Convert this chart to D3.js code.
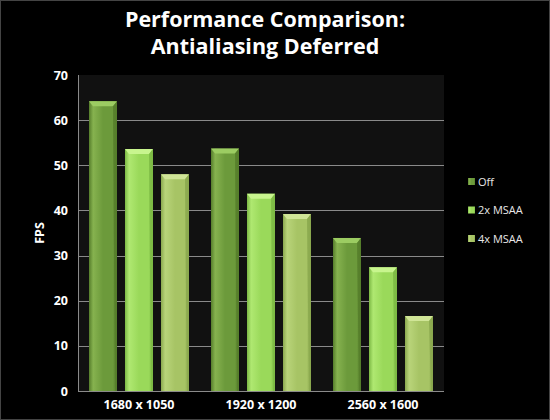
<!DOCTYPE html>
<html>
<head>
<meta charset="utf-8">
<script src="https://cdn.jsdelivr.net/npm/d3@7"></script>
<style>
  body { margin: 0; background: #000; }
  svg { display: block; }
  text { font-family: "Open Sans", "Noto Sans", sans-serif; }
</style>
</head>
<body>
<div id="chart"></div>
<script>
'use strict';

var resolutions = ['1680 x 1050', '1920 x 1200', '2560 x 1600'];
var seriesNames = ['Off', '2x MSAA', '4x MSAA'];
var offFps = [64.2, 53.7, 33.9];
var msaa2xFps = [53.6, 43.7, 27.4];
var msaa4xFps = [48, 39.2, 16.6];
var yTicks = [0, 10, 20, 30, 40, 50, 60, 70];

var colors = {
  'Off':     { base: '#6c9a3b', dark: '#557d2b', light: '#86b24f', top: '#9ccc62' },
  '2x MSAA': { base: '#9ad95a', dark: '#7cb944', light: '#afe871', top: '#c8f58e' },
  '4x MSAA': { base: '#a7c465', dark: '#8aa84e', light: '#b9d47a', top: '#d0e597' }
};

var width = 550, height = 420;
var margins = { left: 78, right: 106, top: 75, bottom: 29 };
var plotW = width - margins.left - margins.right;
var plotH = height - margins.top - margins.bottom;

var svg = d3.select('#chart').append('svg')
  .attr('width', width)
  .attr('height', height);

svg.append('rect')
  .attr('x', 0.5).attr('y', 0.5)
  .attr('width', width - 1).attr('height', height - 1)
  .attr('fill', '#000')
  .attr('stroke', '#444');

var defs = svg.append('defs');
seriesNames.forEach(function(name, i) {
  var c = colors[name];
  var g = defs.append('linearGradient')
    .attr('id', 'grad' + i)
    .attr('x1', '0%').attr('x2', '100%').attr('y1', '0%').attr('y2', '0%');
  g.append('stop').attr('offset', '0%').attr('stop-color', c.dark);
  g.append('stop').attr('offset', '15%').attr('stop-color', c.light);
  g.append('stop').attr('offset', '50%').attr('stop-color', c.base);
  g.append('stop').attr('offset', '85%').attr('stop-color', c.base);
  g.append('stop').attr('offset', '100%').attr('stop-color', c.dark);
});

// title
var title = svg.append('text')
  .attr('fill', '#fff')
  .attr('font-size', 21.5)
  .attr('font-weight', 'bold')
  .attr('text-anchor', 'middle');
title.append('tspan').attr('x', 265).attr('y', 27).text('Performance Comparison:');
title.append('tspan').attr('x', 265).attr('y', 54).text('Antialiasing Deferred');

var chart = svg.append('g')
  .attr('transform', 'translate(' + margins.left + ',' + margins.top + ')');

chart.append('rect')
  .attr('width', plotW)
  .attr('height', plotH)
  .attr('fill', '#111');

var yScale = d3.scaleLinear().domain([0, 70]).range([plotH, 0]);
var x0 = d3.scaleBand().domain(resolutions).range([0, plotW]);
var x1 = d3.scaleBand().domain(seriesNames).range([11, x0.bandwidth() - 11]).paddingInner(0.222);

// gridlines
chart.append('g').selectAll('line')
  .data(yTicks.filter(function(d) { return d > 0 && d < 70; }))
  .enter().append('line')
  .attr('x1', 0).attr('x2', plotW)
  .attr('y1', function(d) { return Math.round(yScale(d)) + 0.5; })
  .attr('y2', function(d) { return Math.round(yScale(d)) + 0.5; })
  .attr('stroke', '#8a8a8a')
  .attr('stroke-width', 1.2);

// y axis labels
var yAxis = d3.axisLeft(yScale).tickValues(yTicks).tickSize(0).tickPadding(10);
var yAxisGroup = chart.append('g').attr('class', 'yAxis').call(yAxis);
yAxisGroup.select('.domain').remove();
yAxisGroup.selectAll('text')
  .attr('fill', '#fff')
  .attr('font-size', 12.5)
  .attr('font-weight', 'bold')
  .attr('font-family', '"Open Sans", sans-serif');

// x axis labels
var xAxis = d3.axisBottom(x0).tickSize(0).tickPadding(9);
var xAxisGroup = chart.append('g').attr('class', 'xAxis')
  .attr('transform', 'translate(0,' + plotH + ')')
  .call(xAxis);
xAxisGroup.select('.domain').remove();
xAxisGroup.selectAll('text')
  .attr('fill', '#fff')
  .attr('font-size', 12.5)
  .attr('font-weight', 'bold')
  .attr('font-family', '"Open Sans", sans-serif');

// bars
var rows = resolutions.map(function(r, i) {
  return { res: r, values: [offFps[i], msaa2xFps[i], msaa4xFps[i]] };
});

var groups = chart.selectAll('.bar_group')
  .data(rows)
  .enter().append('g')
  .attr('class', 'bar_group')
  .attr('transform', function(d) { return 'translate(' + x0(d.res) + ',0)'; });

var bars = groups.selectAll('.bar')
  .data(function(d) {
    return d.values.map(function(v, i) { return { name: seriesNames[i], idx: i, value: v }; });
  })
  .enter().append('g')
  .attr('class', 'bar');

bars.append('rect')
  .attr('x', function(d) { return x1(d.name); })
  .attr('y', function(d) { return yScale(d.value); })
  .attr('width', x1.bandwidth())
  .attr('height', function(d) { return plotH - yScale(d.value); })
  .attr('fill', function(d) { return 'url(#grad' + d.idx + ')'; });

// bevelled top
bars.append('polygon')
  .attr('points', function(d) {
    var x = x1(d.name), w = x1.bandwidth(), y = yScale(d.value), b = 4;
    return [[x, y], [x + w, y], [x + w - b, y + b + 1], [x + b, y + b + 1]].join(' ');
  })
  .attr('fill', function(d) { return colors[d.name].top; });

bars.append('polygon')
  .attr('points', function(d) {
    var x = x1(d.name), w = x1.bandwidth(), y = yScale(d.value), b = 4;
    return [[x + w, y], [x + w, plotH], [x + w - 2, plotH], [x + w - b, y + b + 1]].join(' ');
  })
  .attr('fill', function(d) { return colors[d.name].dark; })
  .attr('opacity', 0.8);

// axis lines
chart.append('line')
  .attr('x1', 0.5).attr('x2', 0.5).attr('y1', 0).attr('y2', plotH)
  .attr('stroke', '#8a8a8a');
chart.append('line')
  .attr('x1', 0).attr('x2', plotW).attr('y1', plotH + 0.5).attr('y2', plotH + 0.5)
  .attr('stroke', '#8a8a8a');

// y label
svg.append('text')
  .attr('transform', 'translate(44,' + (margins.top + plotH / 2) + ') rotate(-90)')
  .attr('text-anchor', 'middle')
  .attr('fill', '#fff')
  .attr('font-size', 12.5)
  .attr('font-weight', 'bold')
  .text('FPS');

// legend
var legend = svg.selectAll('.legend')
  .data(seriesNames)
  .enter().append('g')
  .attr('class', 'legend')
  .attr('transform', function(d, i) { return 'translate(468,' + (182 + i * 28.5) + ')'; });

legend.append('rect')
  .attr('x', 0).attr('y', -4)
  .attr('width', 7).attr('height', 7)
  .attr('fill', function(d, i) { return 'url(#grad' + i + ')'; });

legend.append('text')
  .attr('x', 10)
  .attr('y', 0)
  .attr('dy', '0.35em')
  .attr('fill', '#e8e8e8')
  .attr('font-size', 11)
  .text(function(d) { return d; });
</script>
</body>
</html>
